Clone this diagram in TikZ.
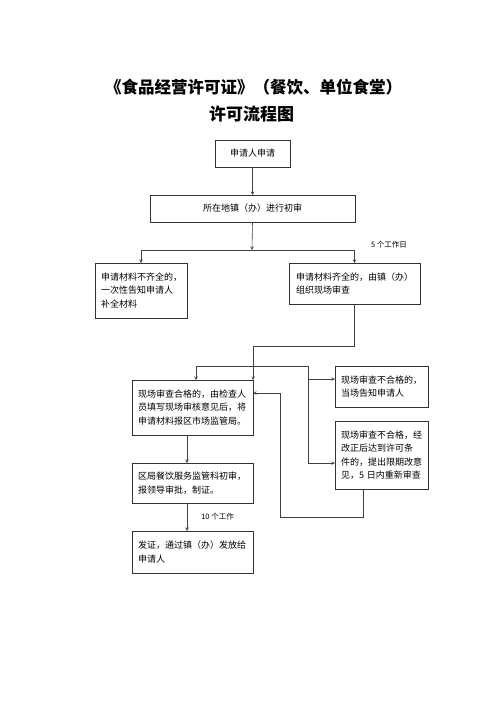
\documentclass[tikz,border=0pt]{standalone}
\usepackage{fontspec}
\usepackage{tikz}
\newfontfamily\cjk{Noto Sans CJK SC}
\usetikzlibrary{positioning}

\begin{document}
\begin{tikzpicture}[
			     x=1pt, y=-1pt,
			     >=stealth,
			     frame/.style={draw=black!80, line width=0.6pt, anchor=north west, inner xsep=7pt, inner ysep=2pt, outer sep=0pt, font=\cjk\fontsize{9}{13.5}\selectfont},
			     textbox/.style={frame, align=left},
			     flow line/.style={->, draw=black!75, line width=0.6pt},
			     plain line/.style={draw=black!75, line width=0.6pt},
			     note/.style={font=\cjk\fontsize{7.5}{9}\selectfont, inner sep=0pt}
			     ]
\useasboundingbox (0,0) rectangle (500,707);
% title
\node[font=\cjk\bfseries\fontsize{16.5}{20}\selectfont] (title) at (253.5,87) {《食品经营许可证》（餐饮、单位食堂）};
\node[font=\cjk\bfseries\fontsize{17}{20}\selectfont] (subtitle) at (251.5,114) {许可流程图};
% boxes
\node[frame, align=center, minimum width=75pt, minimum height=27pt] (apply) at (215,140) {申请人申请};
\node[frame, align=center, minimum width=205pt, minimum height=27pt] (first) at (150,195) {所在地镇（办）进行初审};
\node[textbox, text width=80pt, inner xsep=6pt, minimum height=55pt] (lack) at (95,263) {申请材料不齐全的，\\一次性告知申请人\\补全材料};
\node[textbox, text width=117pt, minimum height=41pt] (full) at (289,263) {申请材料齐全的，由镇（办）\\组织现场审查};
\node[textbox, text width=109pt, inner xsep=6pt, minimum height=55pt] (pass) at (132,380) {现场审查合格的，由检查人\\员填写现场审核意见后，将\\申请材料报区市场监管局。};
\node[textbox, text width=81pt, inner xsep=6pt, minimum height=41pt] (fail) at (335,366) {现场审查不合格的，\\当场告知申请人};
\node[textbox, text width=81pt, inner xsep=6pt, minimum height=68pt] (fix) at (335,421) {现场审查不合格，经\\改正后达到许可条\\件的，提出限期改意\\见，5~日内重新审查};
\node[textbox, text width=109pt, inner xsep=6pt, minimum height=40pt] (approve) at (132,463) {区局餐饮服务监管科初审，\\报领导审批，制证。};
\node[textbox, text width=109pt, inner xsep=6pt, minimum height=42pt] (issue) at (132,531) {发证，通过镇（办）发放给\\申请人};
\node[note] (days5) at (389,245) {5 个工作日};
% junctions
\coordinate (fork1) at (252,250);
\coordinate (turn) at (253,346);
\coordinate (fork2) at (253,366);
\coordinate (fork3) at (308,366);
\coordinate (back) at (280,517);
% connectors
\draw[flow line] (apply) -- (first);
\draw[flow line] (first.south) -- (fork1);
\draw[flow line] (fork1) -| (lack.north);
\draw[flow line] (fork1) -| (full.north);
\draw[flow line] (full.south) |- (turn) -- (pass.north east);
\draw[flow line] (fork2) -| ([xshift=3.5pt]pass.north);
\draw[plain line] (fork2) -- (fork3);
\draw[flow line] (fork3) |- ([yshift=7.5pt]fail.west);
\draw[flow line] (fork3) |- ([yshift=-8pt]fix.west);
\draw[flow line] ([xshift=-18.5pt]fix.south) |- (back) |- ([yshift=14.5pt]pass.east);
\draw[flow line] ([xshift=-5.5pt]pass.south) -- ([xshift=-5.5pt]approve.north);
\draw[flow line] ([xshift=-5.5pt]approve.south) -- node[note, right=14pt] {10 个工作} ([xshift=-5.5pt]issue.north);
\end{tikzpicture}
\end{document}
